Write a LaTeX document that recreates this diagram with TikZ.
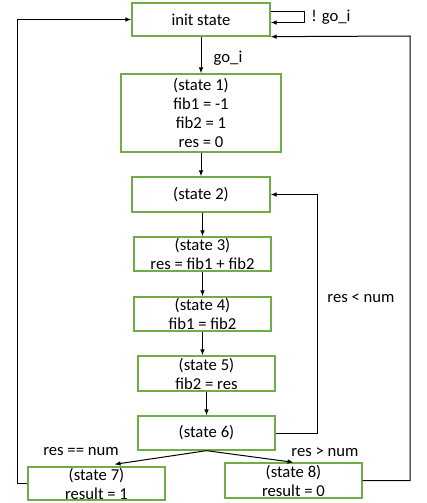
\documentclass[tikz,border=0pt]{standalone}
\usepackage{fontspec}
\setmainfont{Carlito}
\usetikzlibrary{arrows.meta}
\definecolor{boxgreen}{HTML}{70AD47}
\begin{document}
\begin{tikzpicture}[x=.75pt,y=-.75pt,>={Latex[length=4.5pt,width=3.5pt]},
  every node/.style={font=\fontsize{12.5}{14.25}\selectfont,align=center,inner sep=0pt},
  statebox/.style={draw=boxgreen,line width=1pt,minimum width=102.75pt,minimum height=25.5pt},
  link/.style={->,line width=.75pt}]
\useasboundingbox (0,0) rectangle (427,503);
\node[statebox,minimum width=103.5pt,minimum height=24.75pt] (init) at (201,19.5) {init state};
\node[statebox,minimum width=120pt,minimum height=58.5pt] (s1) at (201,113) {(state 1)\\fib1 = -1\\fib2 = 1\\res = 0};
\node[statebox,minimum width=103.5pt,minimum height=26.25pt] (s2) at (201,194.5) {(state 2)};
\node[statebox] (s3) at (202.5,254) {(state 3)\\res = fib1 + fib2};
\node[statebox] (s4) at (202.5,314) {(state 4)\\fib1 = fib2};
\node[statebox,minimum height=26.25pt] (s5) at (206.5,373.5) {(state 5)\\fib2 = res};
\node[statebox] (s6) at (206.5,433) {(state 6)};
\node[statebox,minimum height=24.75pt] (s7) at (96.5,483.5) {(state 7)\\result = 1};
\node[statebox,minimum height=26.25pt] (s8) at (293.5,480.5) {(state 8)\\result = 0};

\coordinate (loopa) at (304,12); \coordinate (loopb) at (304,22.5);
\coordinate (farright) at (410,36); \coordinate (farleft) at (17,19.5);
\coordinate (backtwo) at (317,194.5);

\draw[link] (init) -- (s1); \node (lgo) at (228,58) {go\_i};
\draw[link] (init.east |- loopa) -- (loopa) -- (loopb) -- (init.east |- loopb); \node (lnotgo) at (331,17) {! go\_i};
\draw[link] (s1) -- (s2);
\draw[link] (s3.north |- s2.south) -- (s3.north);
\draw[link] (s3) -- (s4);
\draw[link] (s4.south) -- (s4.south |- s5.north);
\draw[link] (s5) -- (s6);
\draw[link] (s6.east) -| (backtwo) -- (s2.east); \node (lless) at (361,298) {res < num};
\draw[link] (s6.south) -- ([xshift=13.5pt,yshift=1.5pt]s7.north); \node (leq) at (81,452) {res == num};
\draw[link] (s6.south) -- (s8.north); \node (lgt) at (325,452) {res > num};
\draw[link] (s7.west) -| (farleft) -- (init.west);
\draw[link] (s8.east) -| (farright) -- (init.south east);
\end{tikzpicture}
\end{document}
